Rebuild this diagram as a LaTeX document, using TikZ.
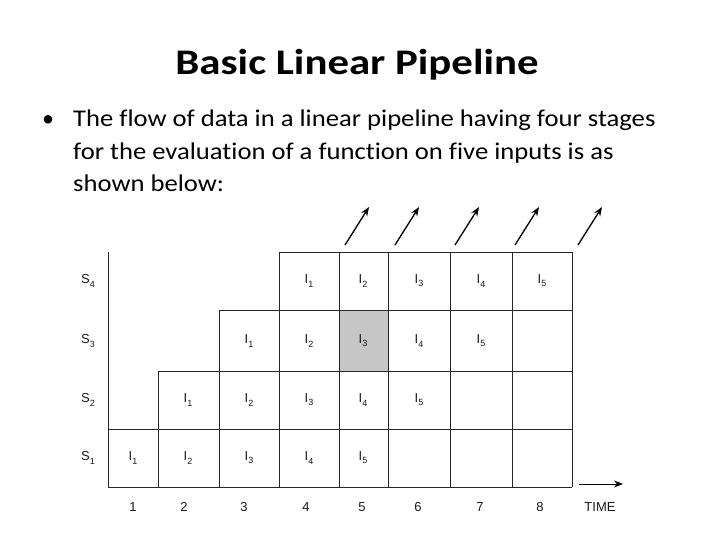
\documentclass[tikz,border=0pt]{standalone}
\usepackage{fontspec}
\setmainfont{Carlito}[Ligatures=NoCommon]
\newfontfamily\gridfont{Liberation Sans}
\usetikzlibrary{arrows.meta}
\newcommand\lab[2]{#1\raisebox{-0.45ex}{\fontsize{9}{9}\selectfont #2}}
\begin{document}
\begin{tikzpicture}[x=1pt,y=-1pt,
  gridline/.style={line width=0.9pt,black!85},
  glab/.style={font=\gridfont\fontsize{13}{13}\selectfont,inner sep=0pt,black!90},
  bodyline/.style={anchor=base west,inner sep=0pt,font=\fontsize{24}{24}\selectfont},
  outarrow/.style={line width=1.3pt,-{Stealth[length=9pt,width=7pt]}},
  ]
\useasboundingbox (0,0) rectangle (720,540);
% title
\node[font=\bfseries\fontsize{36}{40}\selectfont,anchor=base,inner sep=0pt] (title) at (357,75) {\scalebox{1.19}[1]{Basic Linear Pipeline}};
% bullet
\node[anchor=base,font=\fontsize{24}{24}\selectfont,inner sep=0pt] (bullet) at (48,127) {\textbullet};
\node[bodyline] (body1) at (73,127) {\scalebox{1.11}[1]{The flow of data in a linear pipeline having four stages}};
\node[bodyline] (body2) at (73,159.5) {\scalebox{1.11}[1]{for the evaluation of a function on five inputs is as}};
\node[bodyline] (body3) at (73,192) {\scalebox{1.11}[1]{shown below:}};
% shaded cell
\fill[gray!45] (339,310) rectangle (388,371);
% grid
\draw[gridline] (108,487) -- (572,487);
\draw[gridline] (108,429) -- (572,429);
\draw[gridline] (158,371) -- (572,371);
\draw[gridline] (219,310) -- (572,310);
\draw[gridline] (279,252) -- (572,252);
\draw[gridline] (108,252) -- (108,487);
\draw[gridline] (158,371) -- (158,487);
\draw[gridline] (219,310) -- (219,487);
\foreach \x in {279,339,388,450,512,572} \draw[gridline] (\x,252) -- (\x,487);
% stage labels
\node[glab] (s4) at (88,281) {\lab{S}{4}};
\node[glab] (s3) at (88,341) {\lab{S}{3}};
\node[glab] (s2) at (88,400) {\lab{S}{2}};
\node[glab] (s1) at (88,458) {\lab{S}{1}};
% cell labels
\node[glab] (c11) at (133,458) {\lab{I}{1}};
\node[glab] (c12) at (188,458) {\lab{I}{2}};
\node[glab] (c13) at (249,458) {\lab{I}{3}};
\node[glab] (c14) at (309,458) {\lab{I}{4}};
\node[glab] (c15) at (363,458) {\lab{I}{5}};
\node[glab] (c22) at (188,400) {\lab{I}{1}};
\node[glab] (c23) at (249,400) {\lab{I}{2}};
\node[glab] (c24) at (309,400) {\lab{I}{3}};
\node[glab] (c25) at (363,400) {\lab{I}{4}};
\node[glab] (c26) at (419,400) {\lab{I}{5}};
\node[glab] (c33) at (249,341) {\lab{I}{1}};
\node[glab] (c34) at (309,341) {\lab{I}{2}};
\node[glab] (c35) at (363,341) {\lab{I}{3}};
\node[glab] (c36) at (419,341) {\lab{I}{4}};
\node[glab] (c37) at (481,341) {\lab{I}{5}};
\node[glab] (c44) at (309,281) {\lab{I}{1}};
\node[glab] (c45) at (363,281) {\lab{I}{2}};
\node[glab] (c46) at (419,281) {\lab{I}{3}};
\node[glab] (c47) at (481,281) {\lab{I}{4}};
\node[glab] (c48) at (542,281) {\lab{I}{5}};
% time labels
\foreach \x/\t in {133/1,184/2,244/3,306/4,362/5,418/6,480/7,540/8}
  \node[glab] (t\t) at (\x,507) {\t};
\node[glab] (time) at (600,507) {TIME};
\coordinate (ta) at (579,484);
\coordinate (tb) at (623,484);
\draw[outarrow,line width=1pt] (ta) -- (tb);
% output arrows
\foreach \x [count=\i] in {345,395,455,515,578} {
  \coordinate (o\i a) at (\x,245);
  \coordinate (o\i b) at (\x+24,207);
  \draw[outarrow] (o\i a) -- (o\i b);
}
\end{tikzpicture}
\end{document}
